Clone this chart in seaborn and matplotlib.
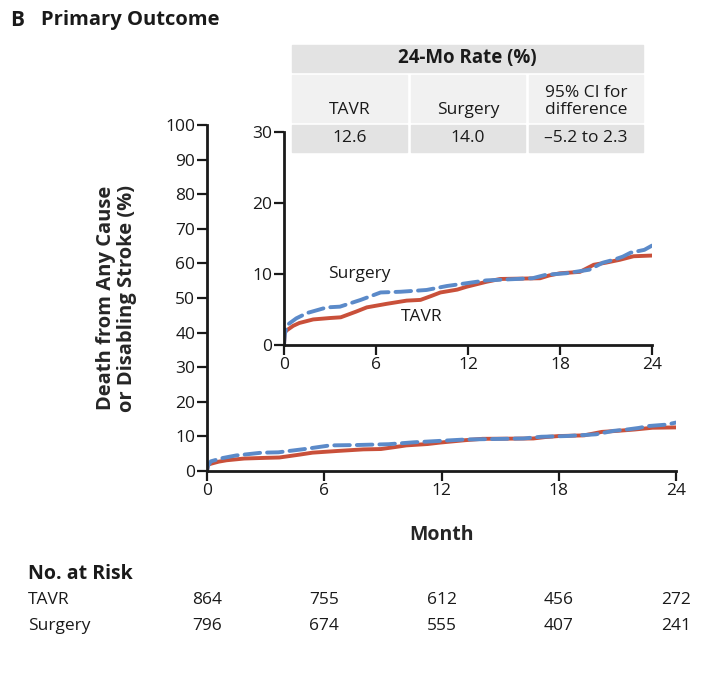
import numpy as np
import pandas as pd
import seaborn as sns
import matplotlib.pyplot as plt
from matplotlib.patches import Rectangle

# Kaplan-Meier style cumulative incidence
tavr_month = [0, 0.05, 0.2, 0.6, 1.0, 1.9, 3.0, 3.7, 4.7, 5.4, 6.7, 8.0, 8.9,
              9.6, 10.2, 11.3, 11.9, 13.2, 14.1, 16.7, 17.3, 18.0, 19.3, 20.2,
              21.0, 21.9, 22.8, 24.0]
tavr_rate = [0, 1.8, 2.1, 2.7, 3.1, 3.6, 3.8, 3.9, 4.7, 5.3, 5.8, 6.25, 6.35,
             6.9, 7.4, 7.8, 8.2, 8.9, 9.3, 9.4, 9.8, 10.1, 10.3, 11.3,
             11.6, 12.0, 12.5, 12.6]

surg_month = [0, 0.05, 0.2, 0.8, 1.5, 2.8, 3.65, 5.0, 6.3, 7.6, 9.3, 10.6,
              11.9, 13.2, 16.2, 17.1, 18.4, 19.9, 20.8, 21.5, 22.1, 22.6, 23.5,
              24.0]
surg_rate = [0, 1.5, 2.8, 3.75, 4.5, 5.3, 5.4, 6.35, 7.4, 7.5, 7.75, 8.3,
             8.7, 9.1, 9.4, 9.9, 10.1, 10.6, 11.6, 12.0, 12.45, 13.0, 13.4,
             14.0]

ticks_month = [0, 6, 12, 18, 24]
risk_tavr = [864, 755, 612, 456, 272]
risk_surg = [796, 674, 555, 407, 241]

table_groups = ["TAVR", "Surgery", "95% CI for\ndifference"]
table_values = ["12.6", "14.0", "\u20135.2 to 2.3"]

red = "#c9503a"
blue = "#5b8ac9"

df = pd.concat([
    pd.DataFrame({"month": tavr_month, "rate": tavr_rate, "group": "TAVR"}),
    pd.DataFrame({"month": surg_month, "rate": surg_rate, "group": "Surgery"}),
])

sns.set_theme(style="ticks")
plt.rcParams["font.family"] = ["Open Sans", "DejaVu Sans"]
plt.rcParams["axes.edgecolor"] = "#1a1a1a"
plt.rcParams["xtick.color"] = "#1a1a1a"
plt.rcParams["ytick.color"] = "#1a1a1a"
plt.rcParams["text.color"] = "#1a1a1a"

W, H = 709, 683
FS = 12.5
fig = plt.figure(figsize=(W / 100, H / 100), dpi=100)


def fx(px):
    return px / W


def fy(py):
    return 1 - py / H


def draw_curves(ax, lw):
    sns.lineplot(data=df[df.group == "TAVR"], x="month", y="rate", ax=ax,
                 color=red, lw=lw, estimator=None, sort=False, legend=False)
    sns.lineplot(data=df[df.group == "Surgery"], x="month", y="rate", ax=ax,
                 color=blue, lw=lw, estimator=None, sort=False, legend=False)
    ax.lines[-1].set_dashes([4.0, 1.8])
    ax.lines[-1].set_dash_capstyle("round")


def style_axes(ax):
    sns.despine(ax=ax)
    for s in ["left", "bottom"]:
        ax.spines[s].set_linewidth(2)
    ax.tick_params(width=1.6, length=7, labelsize=FS, pad=1.5)
    ax.set_xlabel("")
    ax.set_ylabel("")
    ax.set_xticks(ticks_month)
    ax.set_facecolor("none")


# main axes
ax = fig.add_axes([fx(207), fy(471), fx(676) - fx(207), fy(125) - fy(471)])
draw_curves(ax, 2.8)
style_axes(ax)
ax.set_xlim(0, 24)
ax.set_ylim(0, 100)
ax.set_yticks(range(0, 101, 10))
ax.set_xlabel("Month", fontsize=14, fontweight="bold", labelpad=19)
ax.set_ylabel("Death from Any Cause\nor Disabling Stroke (%)", fontsize=14.5,
              fontweight="bold", labelpad=20, linespacing=1.1)

# inset
ins = fig.add_axes([fx(284), fy(345), fx(652) - fx(284), fy(132) - fy(345)])
draw_curves(ins, 2.8)
style_axes(ins)
ins.set_xlim(0, 24)
ins.set_ylim(0, 30)
ins.set_yticks([0, 10, 20, 30])
ins.text(2.85, 10.0, "Surgery", fontsize=FS, ha="left", va="center")
ins.text(7.6, 3.9, "TAVR", fontsize=FS, ha="left", va="center")

# rate table
fig.patches.append(Rectangle((fx(292), fy(72)), fx(643) - fx(292), fy(45) - fy(72),
                             transform=fig.transFigure, color="#e3e3e3", zorder=3))
fig.text((fx(292) + fx(643)) / 2, fy(58.5), "24-Mo Rate (%)", fontsize=13.5,
         fontweight="bold", ha="center", va="center")
cols = [(292, 407), (411, 525), (529, 643)]
for (x0, x1), head, val in zip(cols, table_groups, table_values):
    fig.patches.append(Rectangle((fx(x0), fy(122)), fx(x1) - fx(x0), fy(75) - fy(122),
                                 transform=fig.transFigure, color="#f1f1f1", zorder=3))
    fig.patches.append(Rectangle((fx(x0), fy(152)), fx(x1) - fx(x0), fy(125) - fy(152),
                                 transform=fig.transFigure, color="#e3e3e3", zorder=3))
    fig.text((fx(x0) + fx(x1)) / 2, fy(118), head, fontsize=FS, ha="center",
             va="bottom", linespacing=1.1, zorder=4)
    fig.text((fx(x0) + fx(x1)) / 2, fy(138.5), val, fontsize=FS, ha="center",
             va="center", zorder=4)

# title
fig.text(fx(10), fy(20), "B", fontsize=15, fontweight="bold", va="center")
fig.text(fx(41), fy(20), "Primary Outcome", fontsize=14.5, fontweight="bold",
         va="center")

# number at risk
fig.text(fx(28), fy(574), "No. at Risk", fontsize=14, fontweight="bold",
         va="center")
for lab, vals, py in [("TAVR", risk_tavr, 600), ("Surgery", risk_surg, 626)]:
    fig.text(fx(28), fy(py), lab, fontsize=FS, va="center")
    for m, v in zip(ticks_month, vals):
        xd = ax.transData.transform((m, 0))[0]
        fig.text(xd / W, fy(py), str(v), fontsize=FS, ha="center",
                 va="center")

fig.savefig("out.png", dpi=100)
